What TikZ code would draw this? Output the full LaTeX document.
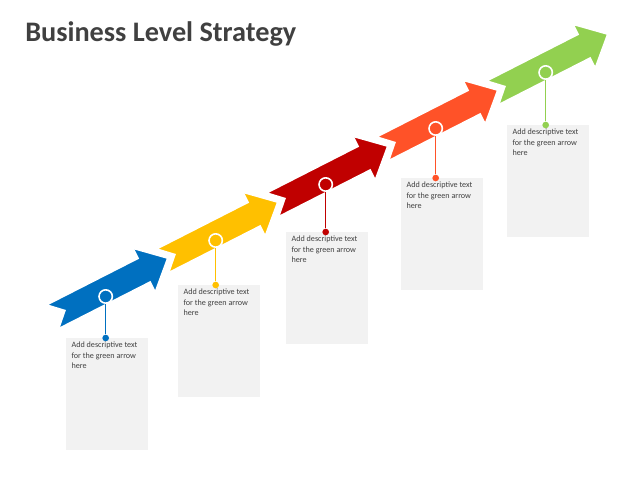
\documentclass[tikz,border=0pt]{standalone}
\usepackage{fontspec}
\setmainfont{Carlito}
\definecolor{cA}{HTML}{0070C0}
\definecolor{cB}{HTML}{FFC000}
\definecolor{cC}{HTML}{C00000}
\definecolor{cD}{HTML}{FF5228}
\definecolor{cE}{HTML}{92D050}
\definecolor{boxg}{HTML}{F2F2F2}
\definecolor{txt}{HTML}{404040}
\tikzset{
  arr/.style={draw=white, line width=1.5pt, line join=miter},
  ring/.style={circle, draw=white, line width=1.2pt, minimum size=10pt, inner sep=0pt},
  dot/.style={circle, inner sep=0pt, minimum size=5pt},
  infobox/.style={fill=boxg, draw=none, anchor=north west, minimum width=61.5pt, minimum height=84pt, inner sep=0pt},
  infotext/.style={anchor=north west, text=txt, font=\fontsize{6.1pt}{7.6pt}\selectfont, align=left, inner sep=0pt},
}
\begin{document}
\begin{tikzpicture}[x=0.75pt,y=0.75pt]
\useasboundingbox (0,0) rectangle (638,479);
\node[anchor=base west, inner sep=0pt, text=txt, font=\fontsize{21.2pt}{24pt}\selectfont\bfseries] (title) at (25,437) {Business Level Strategy};
\foreach \i/\c in {0/cA,1/cB,2/cC,3/cD,4/cE}{
  \pgfmathsetmacro{\tx}{168+110*\i}
  \pgfmathsetmacro{\ty}{221+56*\i}
  \begin{scope}[shift={(\tx,\ty)}, rotate=27]
    \fill[\c, arr] (0,0) -- (-27,25) -- (-27,13.5) -- (-130,13.5) -- (-116,0) -- (-130,-13.5) -- (-27,-13.5) -- (-27,-25) -- cycle;
    \node[ring, fill=\c] (r\i) at (-73,-6) {};
  \end{scope}
}
\foreach \i/\c/\x/\y in {0/cA/66/141,1/cB/178/194,2/cC/286/247,3/cD/401/301,4/cE/507/354}{
  \node[infobox] (b\i) at (\x,\y) {};
  \node[dot, fill=\c] (d\i) at (r\i |- b\i.north) {};
  \draw[\c, line width=1pt] (r\i.south) -- (d\i);
  \node[infotext] (t\i) at ([xshift=4pt,yshift=-3pt]b\i.north west) {Add descriptive text\\for the green arrow\\here};
}
\end{tikzpicture}
\end{document}
